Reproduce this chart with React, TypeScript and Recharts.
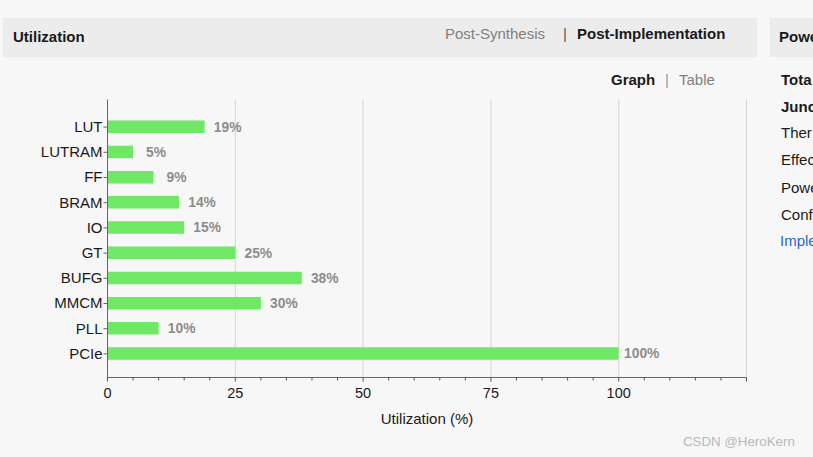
import { Bar, BarChart, CartesianGrid, LabelList, XAxis, YAxis } from 'recharts';

const categories = ['LUT', 'LUTRAM', 'FF', 'BRAM', 'IO', 'GT', 'BUFG', 'MMCM', 'PLL', 'PCIe'];
const utilization = [19, 5, 9, 14, 15, 25, 38, 30, 10, 100];
const xTicks = [0, 5, 10, 15, 20, 25, 30, 35, 40, 45, 50, 55, 60, 65, 70, 75, 80, 85, 90, 95, 100, 105, 110, 115, 120, 125];
const xLabels = [0, 25, 50, 75, 100];
const gridValues = [25, 50, 75, 100, 125];
const powerRows = ['Tota', 'Junc', 'Ther', 'Effec', 'Powe', 'Conf'];
const powerRowTops = [71, 98, 124, 151, 179, 206];

const data = categories.map((name, i) => ({ name, value: utilization[i] }));

const FONT = '"Liberation Sans", Arial, sans-serif';

function XTick({ x, y, payload }: any) {
  const major = payload.value % 25 === 0;
  return (
    <g>
      <line x1={x} x2={x} y1={y} y2={y + (major ? 4 : 3)} stroke="#555" strokeWidth={1} />
      {xLabels.includes(payload.value) && (
        <text x={x} y={y + 20} textAnchor="middle" fontSize={14.5} fill="#1a1a1a" fontFamily={FONT}>
          {payload.value}
        </text>
      )}
    </g>
  );
}

// labels sit centred a fixed distance past the bar end
function BarValue({ x, y, width, height, value }: any) {
  return (
    <text
      x={x + width + 23}
      y={y + height / 2}
      dy="0.35em"
      textAnchor="middle"
      fontSize={13.8}
      fontWeight={700}
      fill="#8c8c8c"
      fontFamily={FONT}
    >
      {value}%
    </text>
  );
}

function Txt({ x, y, bold, color, size = 15, children }: any) {
  return (
    <div
      style={{
        position: 'absolute',
        left: x,
        top: y,
        fontSize: size,
        fontWeight: bold ? 700 : 400,
        color: color || '#1a1a1a',
        lineHeight: '18px',
        whiteSpace: 'nowrap',
      }}
    >
      {children}
    </div>
  );
}

export default function App() {
  return (
    <div
      style={{
        position: 'fixed',
        left: 0,
        top: 0,
        width: 813,
        height: 457,
        overflow: 'hidden',
        background: '#f7f7f7',
        fontFamily: FONT,
      }}
    >
      <div style={{ position: 'absolute', left: 3, top: 18, width: 754, height: 39, background: '#ececec' }} />
      <div style={{ position: 'absolute', left: 770, top: 18, width: 60, height: 39, background: '#ececec' }} />
      <Txt x={13} y={28} bold>Utilization</Txt>
      <Txt x={445} y={25} color="#808080">Post-Synthesis</Txt>
      <Txt x={563} y={25} color="#555">|</Txt>
      <Txt x={577} y={25} bold>Post-Implementation</Txt>
      <Txt x={611} y={71} bold>Graph</Txt>
      <Txt x={665} y={71} color="#999">|</Txt>
      <Txt x={679} y={71} color="#808080">Table</Txt>
      <Txt x={779} y={28} bold>Powe</Txt>
      {powerRows.map((row, i) => (
        <Txt key={row} x={781} y={powerRowTops[i]} bold={i < 2}>
          {row}
        </Txt>
      ))}
      <Txt x={780} y={232} color="#2a66c8">Imple</Txt>
      <Txt x={683} y={433} color="#b8b8b8" size={13.3}>CSDN @HeroKern</Txt>

      <div style={{ position: 'absolute', left: 0, top: 0 }}>
        <BarChart
          width={813}
          height={457}
          data={data}
          layout="vertical"
          margin={{ top: 99.5, right: 66.5, bottom: 0, left: 0 }}
        >
          <CartesianGrid horizontal={false} vertical verticalValues={gridValues} stroke="#d4d4d4" strokeWidth={1} />
          <XAxis
            type="number"
            domain={[0, 125]}
            ticks={xTicks}
            interval={0}
            height={79.5}
            stroke="#666"
            tickLine={false}
            tickSize={0}
            tickMargin={0}
            tick={<XTick />}
            label={{ value: 'Utilization (%)', position: 'insideTop', offset: 36, fontSize: 15, fill: '#1a1a1a', fontFamily: FONT }}
          />
          <YAxis
            type="category"
            dataKey="name"
            width={107.5}
            interval={0}
            padding={{ top: 15, bottom: 11 }}
            stroke="#666"
            tickSize={4}
            tickMargin={1}
            tick={{ fontSize: 15, fill: '#1a1a1a', fontFamily: FONT, dy: -0.5 }}
          />
          <Bar dataKey="value" barSize={12.5} fill="#6fe866" isAnimationActive={false}>
            <LabelList dataKey="value" content={<BarValue />} />
          </Bar>
        </BarChart>
      </div>
    </div>
  );
}
